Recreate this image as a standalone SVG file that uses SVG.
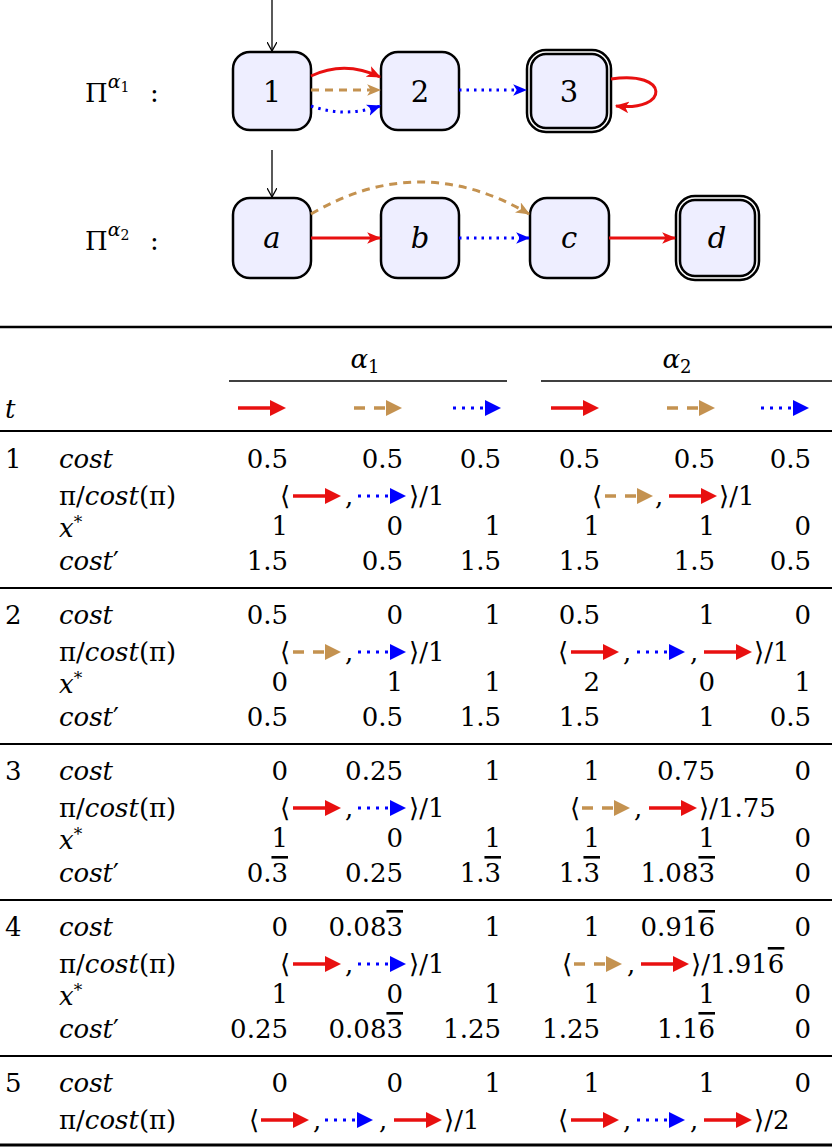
<svg xmlns="http://www.w3.org/2000/svg" width="832" height="1148" viewBox="0 0 832 1148">
<style>
text{font-family:"DejaVu Serif","Liberation Serif",serif;font-size:26px;fill:#000}
.n text{font-size:29px;text-anchor:middle}
.box{fill:#eeeeff;stroke:#000;stroke-width:2.5}
.i{font-style:italic}
.num text{text-anchor:end}
.o{text-decoration:overline}
.rl{stroke:#000;fill:none}
.r{stroke:#e81010;fill:none;stroke-width:3}
.t{stroke:#c49250;fill:none;stroke-width:3;stroke-dasharray:8 6}
.b{stroke:#0000ff;fill:none;stroke-width:3;stroke-dasharray:2.5 5}
</style>
<defs>
<marker id="mr" viewBox="0 0 12 10" refX="11" refY="5" markerWidth="14" markerHeight="12" markerUnits="userSpaceOnUse" orient="auto"><path d="M0,0 L12,5 L0,10 L3,5 Z" fill="#e81010"/></marker>
<marker id="mt" viewBox="0 0 12 10" refX="11" refY="5" markerWidth="14" markerHeight="12" markerUnits="userSpaceOnUse" orient="auto"><path d="M0,0 L12,5 L0,10 L3,5 Z" fill="#c49250"/></marker>
<marker id="mb" viewBox="0 0 12 10" refX="11" refY="5" markerWidth="14" markerHeight="12" markerUnits="userSpaceOnUse" orient="auto"><path d="M0,0 L12,5 L0,10 L3,5 Z" fill="#0000ff"/></marker>
<marker id="mk" viewBox="0 0 10 10" refX="9" refY="5" markerWidth="10" markerHeight="10" markerUnits="userSpaceOnUse" orient="auto"><path d="M0,0 L9,5 L0,10" fill="none" stroke="#000" stroke-width="1.3"/></marker>
<g id="ar"><line x1="0" y1="0" x2="36" y2="0" stroke="#e81010" stroke-width="3.5"/><path d="M32,-8 L48,0 L32,8 Z" fill="#e81010"/></g>
<g id="at"><line x1="0" y1="0" x2="36" y2="0" stroke="#c49250" stroke-width="3.5" stroke-dasharray="11 9"/><path d="M32,-8 L48,0 L32,8 Z" fill="#c49250"/></g>
<g id="ab"><line x1="0" y1="0" x2="34" y2="0" stroke="#0000ff" stroke-width="3" stroke-dasharray="3 6"/><path d="M32,-8 L48,0 L32,8 Z" fill="#0000ff"/></g>
</defs>

<text x="85" y="102" font-size="30">Π<tspan class="i" font-size="19" dy="-14">α</tspan><tspan font-size="14" dy="4">1</tspan></text>
<text x="150" y="102">:</text>
<text x="85" y="250" font-size="30">Π<tspan class="i" font-size="19" dy="-14">α</tspan><tspan font-size="14" dy="4">2</tspan></text>
<text x="150" y="250">:</text>

<g class="n" id="n1"><rect class="box" x="233" y="52" width="78" height="78" rx="17"/><text x="272" y="102">1</text></g>
<g class="n" id="n2"><rect class="box" x="381" y="52" width="78" height="78" rx="17"/><text x="420" y="102">2</text></g>
<g class="n" id="n3"><rect x="527" y="50" width="84" height="82" rx="19" fill="none" stroke="#000" stroke-width="2.5"/><rect class="box" x="531" y="54" width="76" height="74" rx="15"/><text x="569" y="102">3</text></g>
<g class="n" id="na"><rect class="box" x="233" y="198" width="78" height="80" rx="17"/><text class="i" x="272" y="248">a</text></g>
<g class="n" id="nb"><rect class="box" x="381" y="198" width="78" height="80" rx="17"/><text class="i" x="420" y="248">b</text></g>
<g class="n" id="nc"><rect class="box" x="530" y="198" width="79" height="80" rx="17"/><text class="i" x="569" y="248">c</text></g>
<g class="n" id="nd"><rect x="676" y="196" width="83" height="84" rx="19" fill="none" stroke="#000" stroke-width="2.5"/><rect class="box" x="680" y="200" width="75" height="76" rx="15"/><text class="i" x="717" y="248">d</text></g>

<g id="edges">
<line class="rl" x1="272" y1="0" x2="272" y2="51" stroke-width="1.3" marker-end="url(#mk)"/>
<line class="rl" x1="272" y1="150" x2="272" y2="197" stroke-width="1.3" marker-end="url(#mk)"/>
<path class="r" d="M311,76 Q345,60 380,77" marker-end="url(#mr)"/>
<path class="t" d="M311,90 L380,90" marker-end="url(#mt)"/>
<path class="b" d="M311,106 Q345,118 380,106" marker-end="url(#mb)"/>
<path class="b" d="M459,90 L526,90" marker-end="url(#mb)"/>
<path class="r" d="M611,79 C670,70 670,112 616,106" marker-end="url(#mr)"/>
<path class="r" d="M311,238 L380,238" marker-end="url(#mr)"/>
<path class="b" d="M459,238 L529,238" marker-end="url(#mb)"/>
<path class="r" d="M609,238 L675,238" marker-end="url(#mr)"/>
<path class="t" d="M311,214 Q420,150 529,214" marker-end="url(#mt)"/>
</g>

<g id="table">
<line x1="0" y1="327" x2="832" y2="327" stroke="#000" stroke-width="2.5"/>
<text x="365" y="368" text-anchor="middle" class="i">α<tspan font-style="normal" font-size="18" dy="5">1</tspan></text>
<text x="677" y="368" text-anchor="middle" class="i">α<tspan font-style="normal" font-size="18" dy="5">2</tspan></text>
<line x1="229" y1="381" x2="507" y2="381" stroke="#000" stroke-width="1.3"/>
<line x1="541" y1="381" x2="832" y2="381" stroke="#000" stroke-width="1.3"/>
<text x="5" y="418" class="i">t</text>
<use href="#ar" x="238" y="408"/><use href="#at" x="354" y="408"/><use href="#ab" x="453" y="408"/>
<use href="#ar" x="551" y="408"/><use href="#at" x="667" y="408"/><use href="#ab" x="761" y="408"/>
<line x1="0" y1="431" x2="832" y2="431" stroke="#000" stroke-width="2.2"/>
<line x1="0" y1="588" x2="832" y2="588" stroke="#000" stroke-width="2"/>
<line x1="0" y1="744" x2="832" y2="744" stroke="#000" stroke-width="2"/>
<line x1="0" y1="900" x2="832" y2="900" stroke="#000" stroke-width="2"/>
<line x1="0" y1="1056" x2="832" y2="1056" stroke="#000" stroke-width="2"/>
<line x1="0" y1="1145" x2="832" y2="1145" stroke="#000" stroke-width="3"/>

<g id="labels">
<text x="5" y="468">1</text><text x="5" y="624">2</text><text x="5" y="780">3</text><text x="5" y="936">4</text><text x="5" y="1092">5</text>
<text x="59" y="468" class="i">cost</text>
<text x="59" y="505">π/<tspan class="i">cost</tspan>(π)</text>
<text x="59" y="537" class="i">x<tspan font-style="normal" font-size="17" dy="-9">*</tspan></text>
<text x="59" y="570" class="i">cost<tspan font-style="normal">′</tspan></text>
<text x="59" y="624" class="i">cost</text>
<text x="59" y="661">π/<tspan class="i">cost</tspan>(π)</text>
<text x="59" y="693" class="i">x<tspan font-style="normal" font-size="17" dy="-9">*</tspan></text>
<text x="59" y="726" class="i">cost<tspan font-style="normal">′</tspan></text>
<text x="59" y="780" class="i">cost</text>
<text x="59" y="817">π/<tspan class="i">cost</tspan>(π)</text>
<text x="59" y="849" class="i">x<tspan font-style="normal" font-size="17" dy="-9">*</tspan></text>
<text x="59" y="882" class="i">cost<tspan font-style="normal">′</tspan></text>
<text x="59" y="936" class="i">cost</text>
<text x="59" y="973">π/<tspan class="i">cost</tspan>(π)</text>
<text x="59" y="1005" class="i">x<tspan font-style="normal" font-size="17" dy="-9">*</tspan></text>
<text x="59" y="1038" class="i">cost<tspan font-style="normal">′</tspan></text>
<text x="59" y="1092" class="i">cost</text>
<text x="59" y="1129">π/<tspan class="i">cost</tspan>(π)</text>
</g>

<g class="num">
<text x="288" y="468">0.5</text><text x="403" y="468">0.5</text><text x="501" y="468">0.5</text><text x="600" y="468">0.5</text><text x="715" y="468">0.5</text><text x="811" y="468">0.5</text>
<text x="288" y="535">1</text><text x="403" y="535">0</text><text x="501" y="535">1</text><text x="600" y="535">1</text><text x="715" y="535">1</text><text x="811" y="535">0</text>
<text x="288" y="570">1.5</text><text x="403" y="570">0.5</text><text x="501" y="570">1.5</text><text x="600" y="570">1.5</text><text x="715" y="570">1.5</text><text x="811" y="570">0.5</text>
<text x="288" y="624">0.5</text><text x="403" y="624">0</text><text x="501" y="624">1</text><text x="600" y="624">0.5</text><text x="715" y="624">1</text><text x="811" y="624">0</text>
<text x="288" y="691">0</text><text x="403" y="691">1</text><text x="501" y="691">1</text><text x="600" y="691">2</text><text x="715" y="691">0</text><text x="811" y="691">1</text>
<text x="288" y="726">0.5</text><text x="403" y="726">0.5</text><text x="501" y="726">1.5</text><text x="600" y="726">1.5</text><text x="715" y="726">1</text><text x="811" y="726">0.5</text>
<text x="288" y="780">0</text><text x="403" y="780">0.25</text><text x="501" y="780">1</text><text x="600" y="780">1</text><text x="715" y="780">0.75</text><text x="811" y="780">0</text>
<text x="288" y="847">1</text><text x="403" y="847">0</text><text x="501" y="847">1</text><text x="600" y="847">1</text><text x="715" y="847">1</text><text x="811" y="847">0</text>
<text x="288" y="882">0.<tspan class="o">3</tspan></text><text x="403" y="882">0.25</text><text x="501" y="882">1.<tspan class="o">3</tspan></text><text x="600" y="882">1.<tspan class="o">3</tspan></text><text x="715" y="882">1.08<tspan class="o">3</tspan></text><text x="811" y="882">0</text>
<text x="288" y="936">0</text><text x="403" y="936">0.08<tspan class="o">3</tspan></text><text x="501" y="936">1</text><text x="600" y="936">1</text><text x="715" y="936">0.91<tspan class="o">6</tspan></text><text x="811" y="936">0</text>
<text x="288" y="1003">1</text><text x="403" y="1003">0</text><text x="501" y="1003">1</text><text x="600" y="1003">1</text><text x="715" y="1003">1</text><text x="811" y="1003">0</text>
<text x="288" y="1038">0.25</text><text x="403" y="1038">0.08<tspan class="o">3</tspan></text><text x="501" y="1038">1.25</text><text x="600" y="1038">1.25</text><text x="715" y="1038">1.1<tspan class="o">6</tspan></text><text x="811" y="1038">0</text>
<text x="288" y="1092">0</text><text x="403" y="1092">0</text><text x="501" y="1092">1</text><text x="600" y="1092">1</text><text x="715" y="1092">1</text><text x="811" y="1092">0</text>
</g>

<g id="plans">
<text x="280" y="505">⟨</text><use href="#ar" x="293" y="496"/><text x="345" y="505">,</text><use href="#ab" x="358" y="496"/><text x="409" y="505">⟩/1</text>
<text x="592" y="505">⟨</text><use href="#at" x="605" y="496"/><text x="655" y="505">,</text><use href="#ar" x="669" y="496"/><text x="719" y="505">⟩/1</text>
<text x="280" y="661">⟨</text><use href="#at" x="293" y="652"/><text x="345" y="661">,</text><use href="#ab" x="358" y="652"/><text x="409" y="661">⟩/1</text>
<text x="558" y="661">⟨</text><use href="#ar" x="571" y="652"/><text x="623" y="661">,</text><use href="#ab" x="637" y="652"/><text x="690" y="661">,</text><use href="#ar" x="704" y="652"/><text x="754" y="661">⟩/1</text>
<text x="280" y="817">⟨</text><use href="#ar" x="293" y="808"/><text x="345" y="817">,</text><use href="#ab" x="358" y="808"/><text x="409" y="817">⟩/1</text>
<text x="570" y="817">⟨</text><use href="#at" x="582" y="808"/><text x="634" y="817">,</text><use href="#ar" x="649" y="808"/><text x="699" y="817">⟩/1.75</text>
<text x="280" y="973">⟨</text><use href="#ar" x="293" y="964"/><text x="345" y="973">,</text><use href="#ab" x="358" y="964"/><text x="409" y="973">⟩/1</text>
<text x="562" y="973">⟨</text><use href="#at" x="574" y="964"/><text x="627" y="973">,</text><use href="#ar" x="641" y="964"/><text x="691" y="973">⟩/1.91<tspan class="o">6</tspan></text>
<text x="249" y="1129">⟨</text><use href="#ar" x="261" y="1120"/><text x="313" y="1129">,</text><use href="#ab" x="325" y="1120"/><text x="379" y="1129">,</text><use href="#ar" x="394" y="1120"/><text x="444" y="1129">⟩/1</text>
<text x="558" y="1129">⟨</text><use href="#ar" x="571" y="1120"/><text x="623" y="1129">,</text><use href="#ab" x="637" y="1120"/><text x="690" y="1129">,</text><use href="#ar" x="704" y="1120"/><text x="754" y="1129">⟩/2</text>
</g>
</g>
</svg>
